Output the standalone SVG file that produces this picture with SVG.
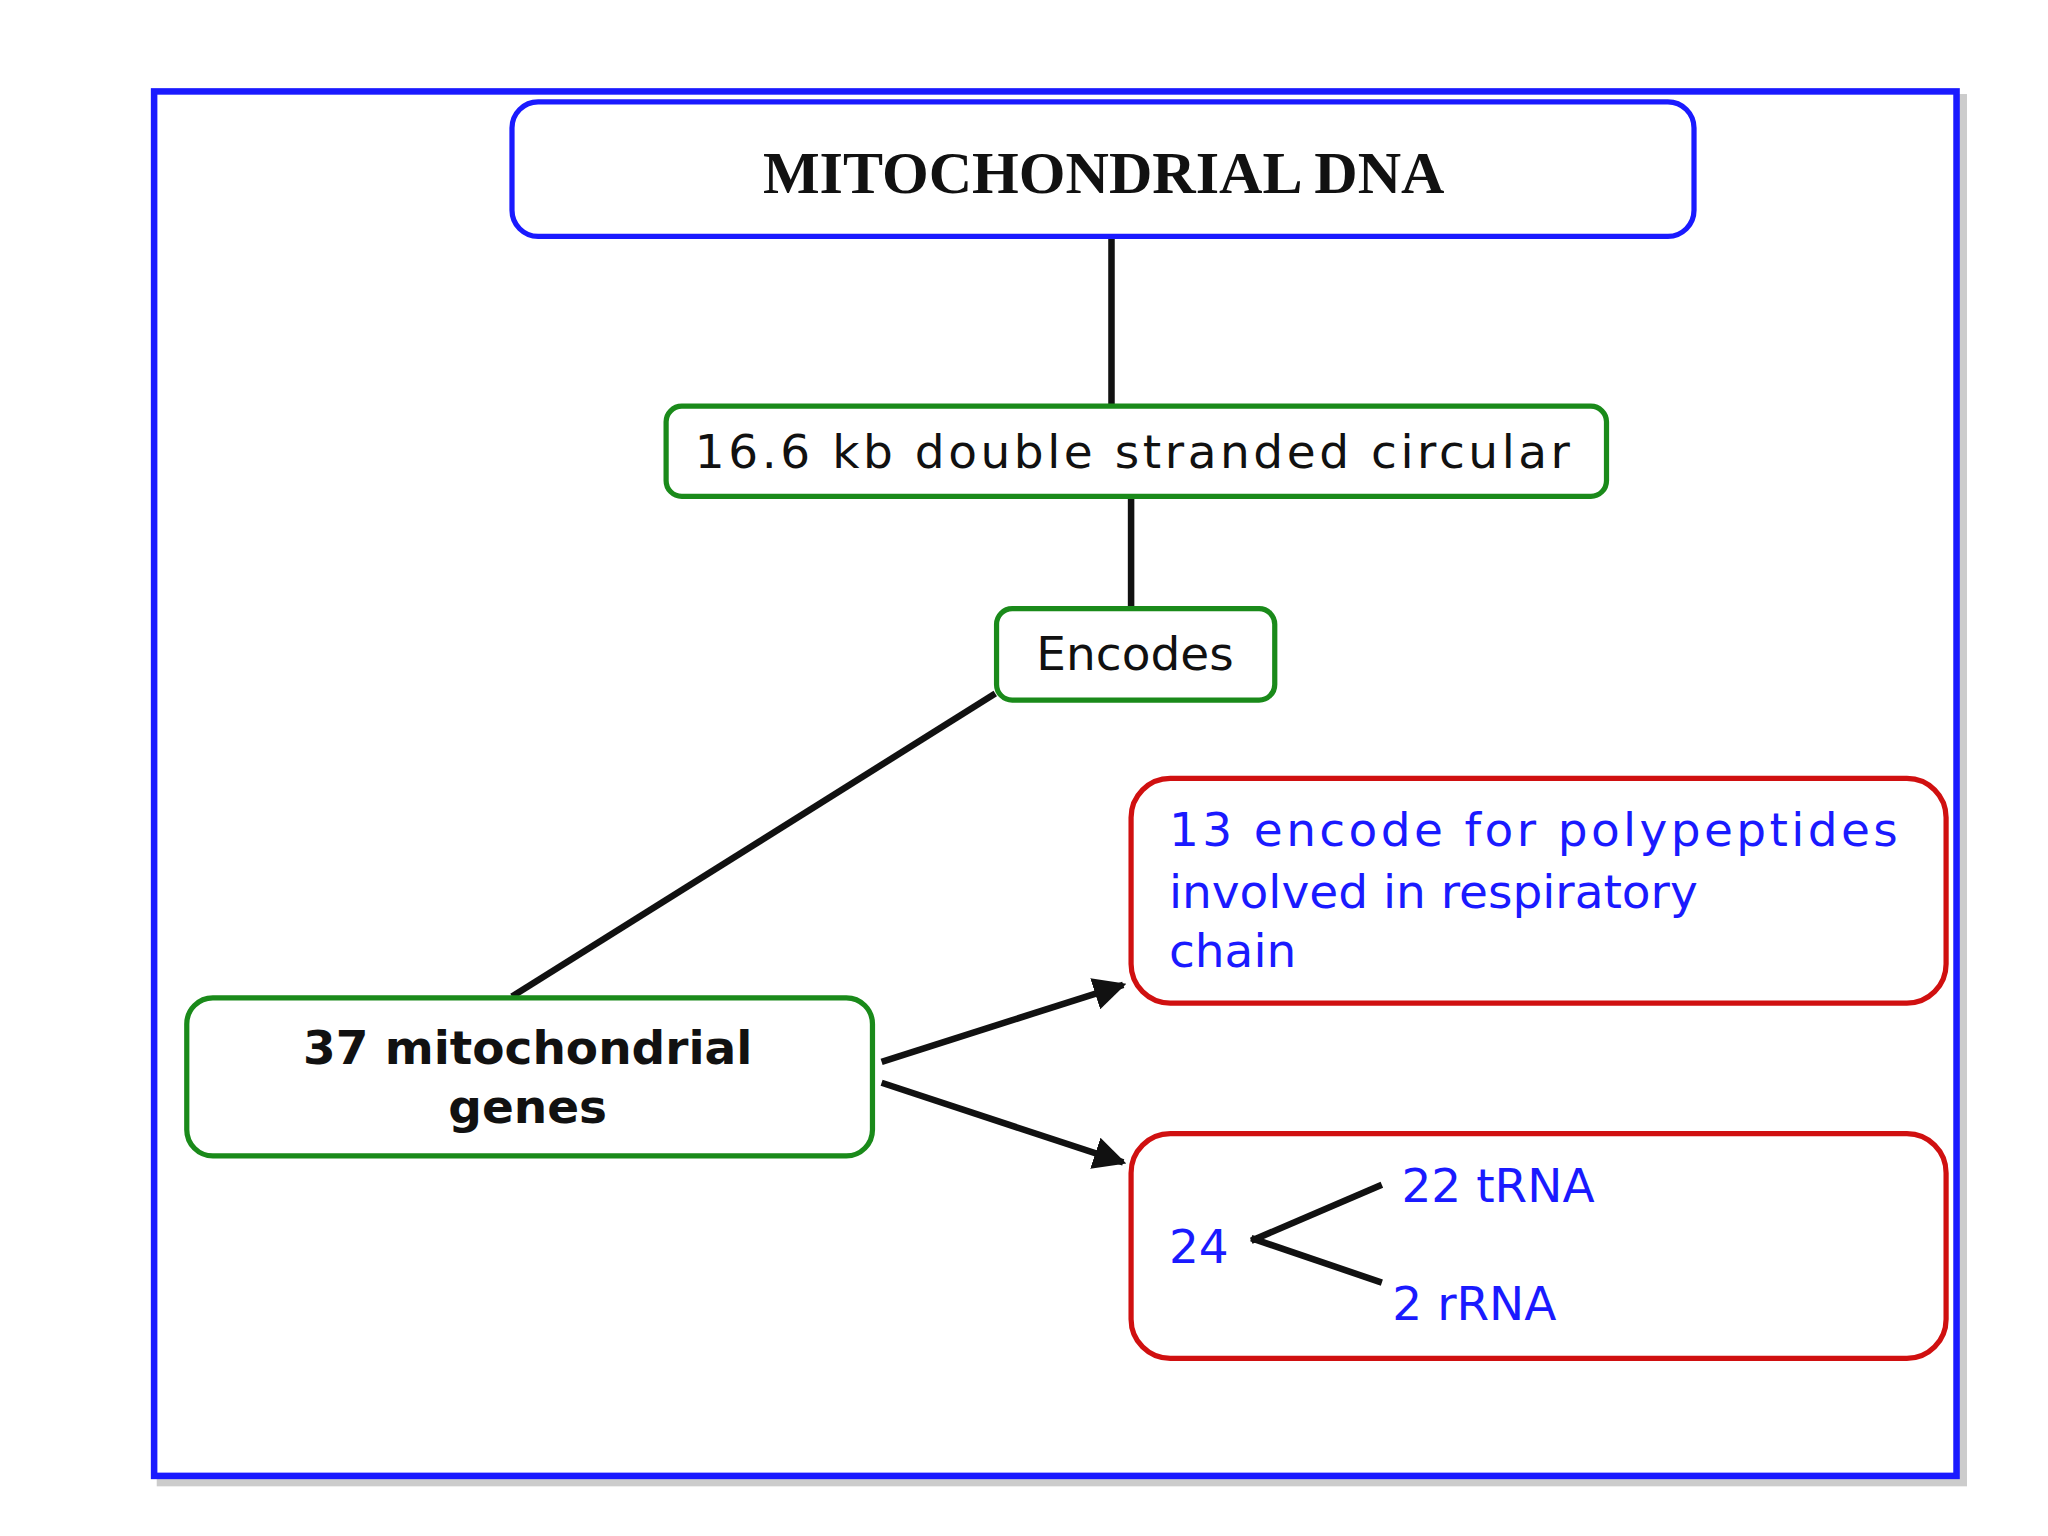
<svg xmlns="http://www.w3.org/2000/svg" width="2048" height="1536" viewBox="0 0 2048 1536">
<style>
.g{fill:#fff;stroke:#1a8a1a;stroke-width:4}
.r{fill:#fff;stroke:#d01010;stroke-width:4}
.t{font-family:"DejaVu Sans",sans-serif;font-size:36px;fill:#111}
.b{font-family:"DejaVu Sans",sans-serif;font-size:36px;fill:#1a1aff}
.c{stroke:#111;stroke-width:5;fill:none}
</style>
<defs><marker id="a" viewBox="0 0 10 10" refX="9" refY="5" markerWidth="5" markerHeight="5" orient="auto"><path d="M0,0L10,5L0,10z" fill="#111"/></marker></defs>
<rect width="2048" height="1536" fill="#fff"/>
<g transform="scale(1.3061)">
<rect x="123" y="75" width="1380" height="1060" fill="none" stroke="#ccc" stroke-width="6"/>
<rect x="118" y="70" width="1380" height="1060" fill="#fff" stroke="#1a1aff" stroke-width="5"/>
<g id="connectors">
<line class="c" x1="851" y1="181" x2="851" y2="311"/>
<line class="c" x1="866" y1="376" x2="866" y2="466"/>
<line class="c" x1="762" y1="531" x2="392" y2="763"/>
<line class="c" x1="675" y1="813" x2="860" y2="754" marker-end="url(#a)"/>
<line class="c" x1="675" y1="829" x2="860" y2="890" marker-end="url(#a)"/>
</g>
<g id="title"><rect x="392" y="78" width="905" height="103" rx="20" fill="#fff" stroke="#1a1aff" stroke-width="4"/>
<text x="845" y="148" text-anchor="middle" font-family="Liberation Serif,serif" font-weight="bold" font-size="46" fill="#111">MITOCHONDRIAL DNA</text></g>
<g id="circular"><rect class="g" x="510" y="311" width="720" height="69" rx="12"/>
<text class="t" x="867" y="358" text-anchor="middle" textLength="670">16.6 kb double stranded circular</text></g>
<g id="encodes"><rect class="g" x="763" y="466" width="213" height="70" rx="12"/>
<text class="t" x="869" y="513" text-anchor="middle">Encodes</text></g>
<g id="genes"><rect class="g" x="143" y="764" width="525" height="121" rx="20"/>
<text class="t" x="404" y="815" text-anchor="middle" font-weight="bold">37 mitochondrial</text>
<text class="t" x="404" y="860" text-anchor="middle" font-weight="bold">genes</text></g>
<g id="poly"><rect class="r" x="866" y="596" width="624" height="172" rx="30"/>
<text class="b" x="895" y="648" textLength="558">13 encode for polypeptides</text>
<text class="b" x="895" y="695">involved in respiratory</text>
<text class="b" x="895" y="740">chain</text></g>
<g id="rna"><rect class="r" x="866" y="868" width="624" height="172" rx="30"/>
<text class="b" x="895" y="967">24</text>
<text class="b" x="1073" y="920">22 tRNA</text>
<text class="b" x="1066" y="1011">2 rRNA</text>
<line class="c" x1="958" y1="950" x2="1058" y2="907" stroke-width="4"/>
<line class="c" x1="958" y1="948" x2="1058" y2="982" stroke-width="4"/></g>
</g>
</svg>
